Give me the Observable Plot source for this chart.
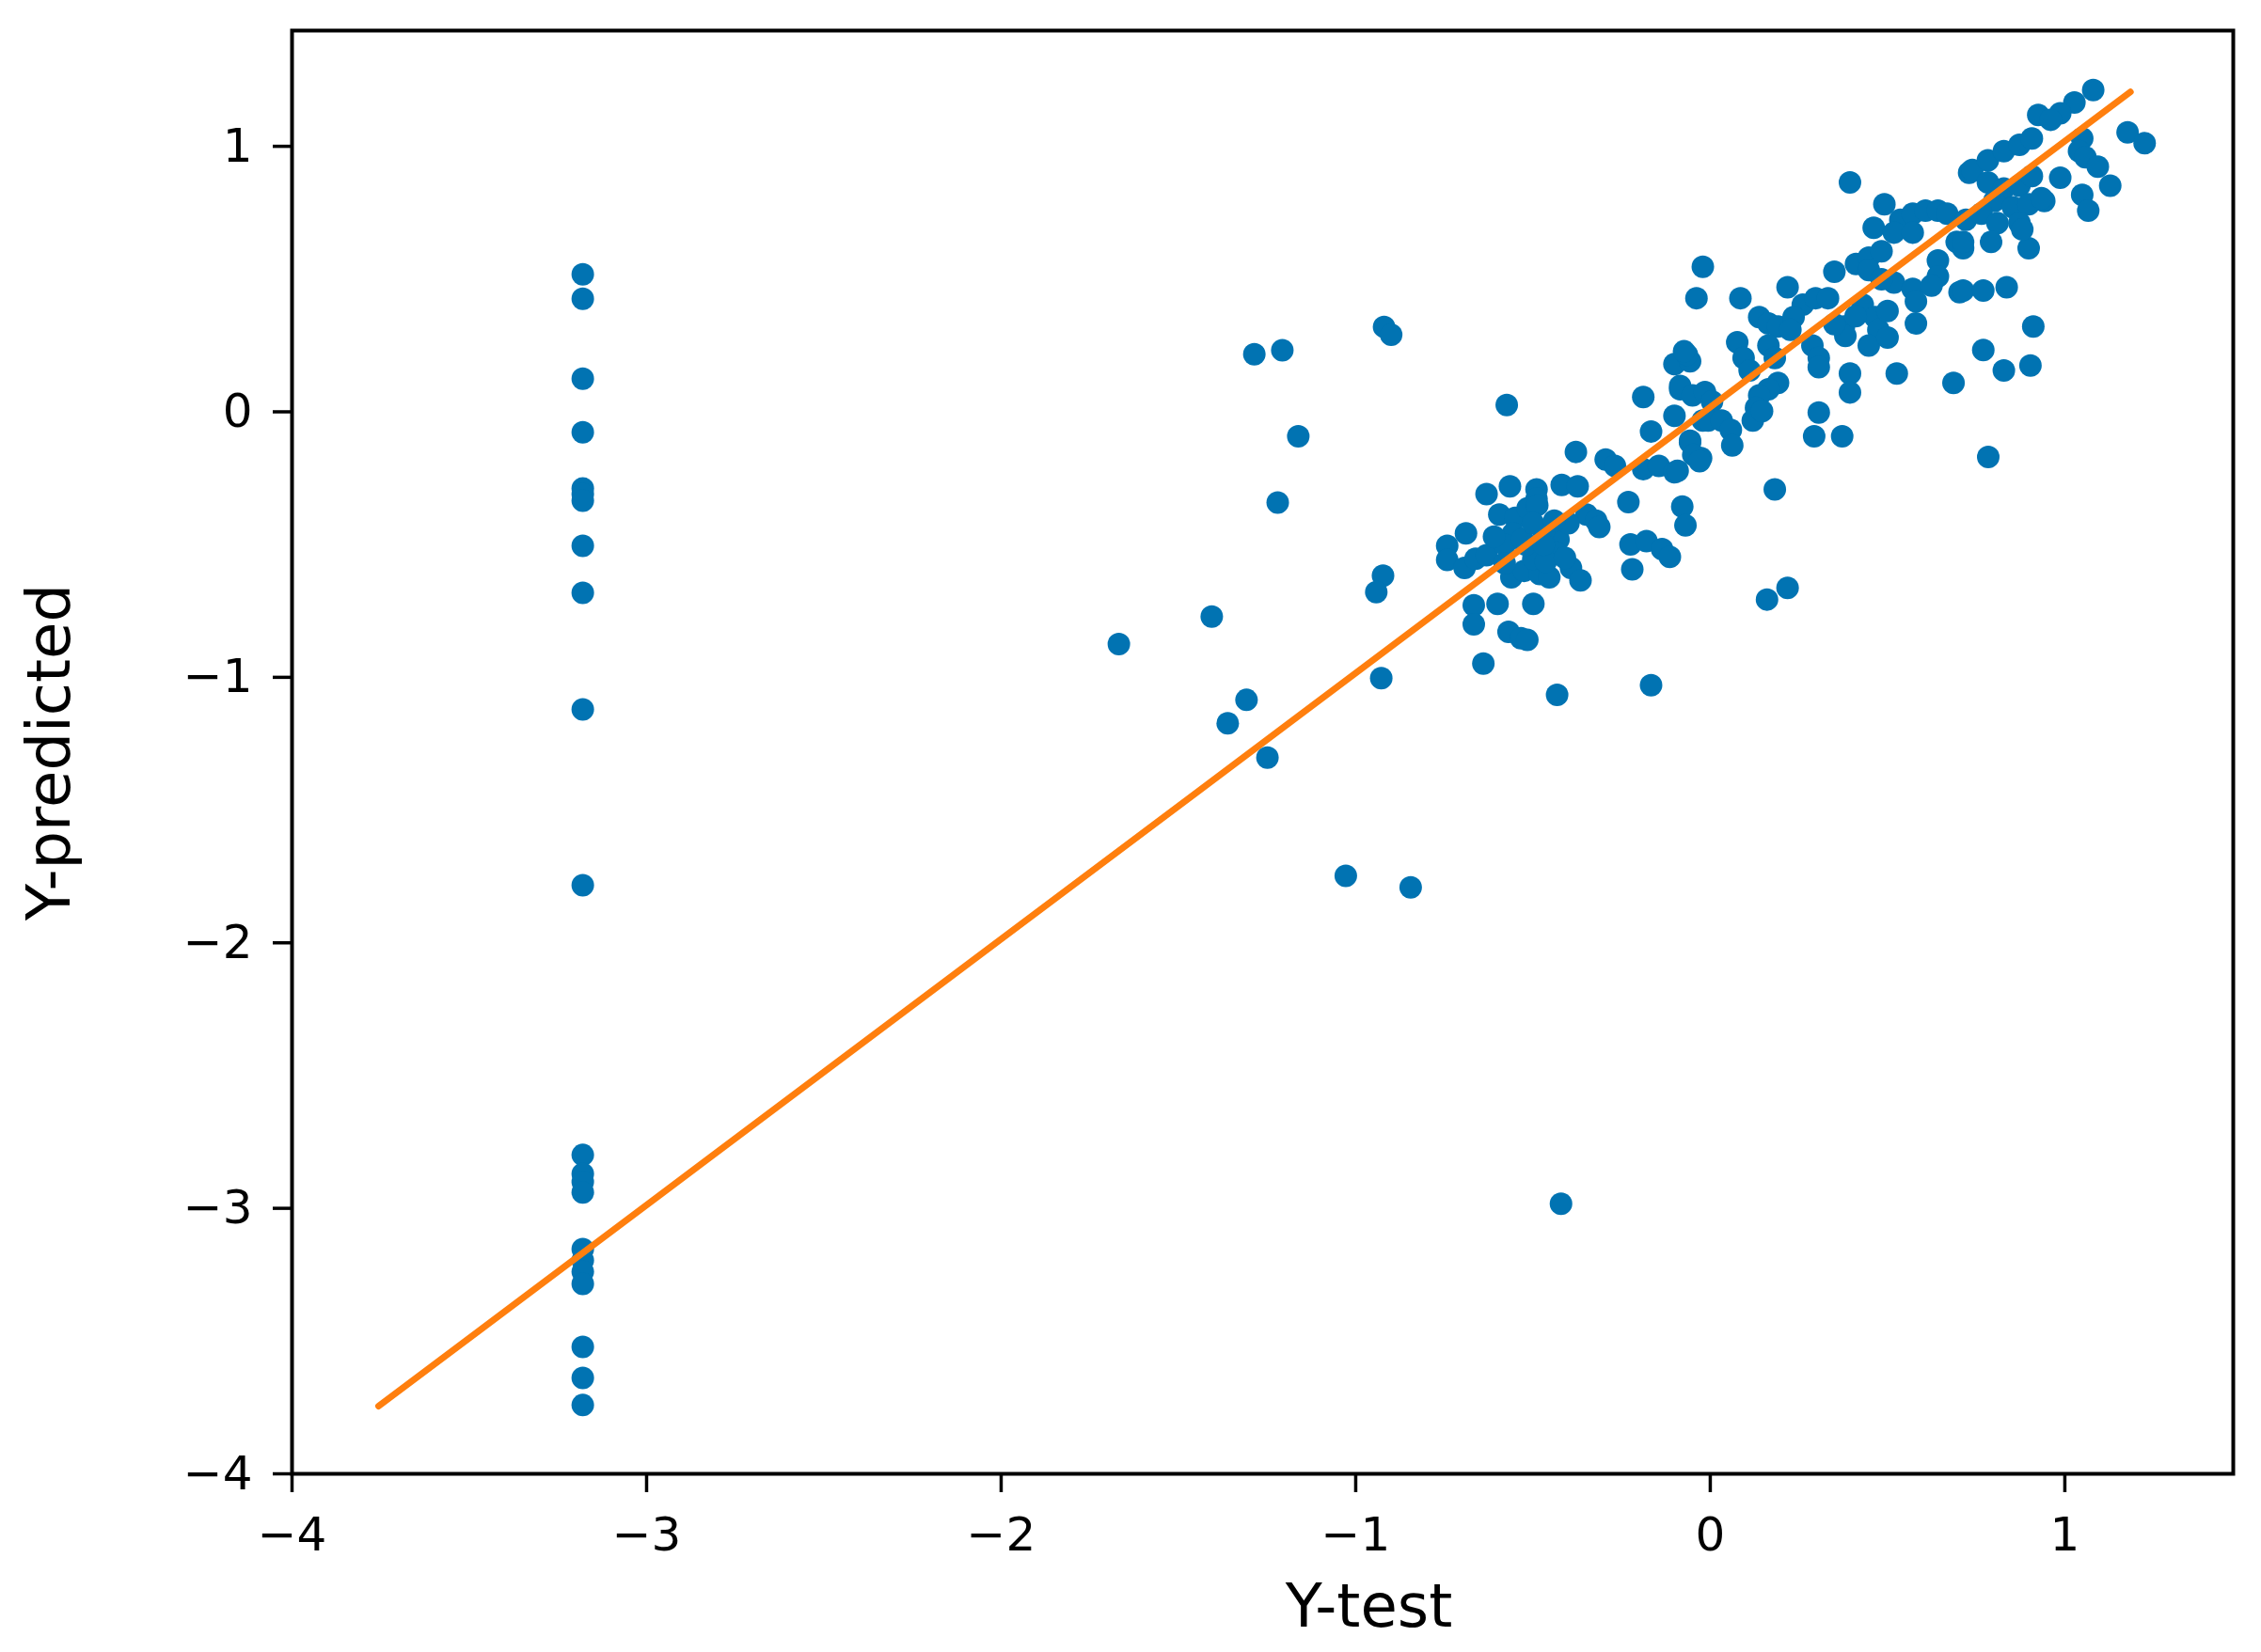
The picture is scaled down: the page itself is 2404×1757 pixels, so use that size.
<!DOCTYPE html>
<html>
<head>
<meta charset="utf-8">
<script src="https://cdn.jsdelivr.net/npm/d3@7"></script>
<script src="https://cdn.jsdelivr.net/npm/@observablehq/plot@0.6"></script>
<style>
  html, body { margin: 0; padding: 0; background: #fff; }
  #chart { width: 2404px; height: 1757px; }
</style>
</head>
<body>
<div id="chart"></div>
<script>
// ---- data ----
const xTicks = [-4, -3, -2, -1, 0, 1];
const yTicks = [-4, -3, -2, -1, 0, 1];
const xLabel = "Y-test";
const yLabel = "Y-predicted";

// vertical column of test value -3.18
const columnX = -3.18;
const columnPred = [0.518, 0.426, 0.125, -0.077, -0.289, -0.31, -0.335, -0.505, -0.682, -1.121, -1.783,
  -2.799, -2.87, -2.90, -2.94, -3.154, -3.196, -3.239, -3.285, -3.522, -3.639, -3.741];

// remaining points: test values and predicted values
const yTest = [
  -1.668, -1.406, -1.361, -1.308, -1.249, -1.286, -1.207, -1.162, -1.220, -0.92, -0.90, -0.923, -0.942, -0.928, -1.028, -0.845, -0.421, -0.432, -0.167,
  -0.574, -0.189, -0.379, -0.295, -0.269, -0.167, -0.101, -0.085, -0.101, -0.057, -0.021, -0.057, -0.026, -0.189, -0.145, -0.101, -0.231, -0.079, -0.070,
  -0.225, -0.180, -0.136, -0.114, -0.220, -0.640, -0.667, -0.667, -0.600, -0.499, -0.569, -0.534, -0.516, -0.631, -0.565, -0.490, -0.490, -0.419, -0.374,
  -0.689, -0.742, -0.742, -0.693, -0.662, -0.631, -0.595, -0.550, -0.515, -0.488, -0.556, -0.454, -0.428, -0.437, -0.349, -0.322, -0.313, -0.561, -0.525,
  -0.481, -0.454, -0.393, -0.366, -0.499, -0.464, -0.52, -0.47, -0.40, -0.58, -0.61, -0.53, -0.47, -0.41, -0.50, -0.58, -0.44,
  0.394, 0.491, 0.461, 0.730, 0.536, 0.571, 0.607, 0.642, 0.668, 0.518, 0.571, 0.695, 0.713, 0.411, 0.447, 0.483, 0.350, 0.642, 0.642, 0.518, 0.571,
  0.624, 0.580, 0.703, 0.580, 0.430, 0.465, 0.474, 0.447, 0.377, 0.381, 0.526, 0.686, 0.394, 0.394, 0.306, 0.293, 0.372, 0.182, -0.021, -0.039, 0.085,
  0.218, 0.138, 0.164, 0.191, 0.261, 0.297, 0.332, 0.235, 0.226, 0.288, 0.306, 0.306, 0.076, 0.094, 0.111, 0.164, 0.182, 0.191, 0.164, 0.138, 0.129,
  0.120, 0.146, -0.066, -0.085, -0.050, -0.015, 0.005, -0.006, 0.032, 0.058, 0.062, -0.057, -0.048, -0.030, -0.092, 0.447, 0.483, -0.074, 0.160, 0.218,
  0.50, 0.41, 0.50, 0.35,
  1.080, 1.027, 0.987, 0.925, 0.960, 1.177, 1.225, 1.049, 1.040, 1.058, 1.093, 1.128, 1.049, 1.066, 0.987, 0.942, 0.898, 0.713, 0.770, 0.836, 0.911,
  0.770, 0.828, 0.903, 0.739, 0.783, 0.828, 0.872, 0.907, 0.783, 0.828, 0.872, 0.907, 0.801, 0.854, 0.898, 0.934, 0.721, 0.765, 0.810, 0.872, 0.713,
  0.792, 0.880, 0.784
];
const yPred = [
  -0.875, -0.771, -1.173, -1.085, -1.302, 0.217, 0.232, -0.092, -0.342, 0.32, 0.29, -0.617, -0.679, -1.003, -1.748, -1.791, -2.983, -1.066, -1.030,
  0.026, 0.056, -0.151, -0.180, -0.204, -0.074, -0.015, 0.085, 0.180, 0.19, -0.033, -0.109, -0.174, -0.216, -0.204, -0.228, -0.340, -0.357, -0.428,
  -0.499, -0.487, -0.517, -0.546, -0.593, -0.948, -0.729, -0.800, -0.723, -0.723, -0.829, -0.853, -0.859, -0.310, -0.281, -0.292, -0.328, -0.275, -0.281,
  -0.458, -0.505, -0.558, -0.588, -0.553, -0.540, -0.387, -0.399, -0.363, -0.352, -0.458, -0.470, -0.481, -0.529, -0.387, -0.410, -0.434, -0.623, -0.599,
  -0.611, -0.623, -0.588, -0.635, -0.553, -0.564, -0.50, -0.45, -0.42, -0.50, -0.47, -0.48, -0.50, -0.55, -0.42, -0.57, -0.41,
  0.864, 0.782, 0.693, 0.900, 0.723, 0.746, 0.758, 0.758, 0.746, 0.675, 0.675, 0.640, 0.616, 0.557, 0.581, 0.605, 0.528, 0.570, 0.510, 0.487, 0.463,
  0.475, 0.416, 0.451, 0.333, 0.404, 0.357, 0.309, 0.250, 0.321, 0.286, 0.144, 0.109, 0.144, 0.073, -0.003, -0.092, -0.092, -0.292, 0.546, 0.428, 0.428,
  0.469, 0.357, 0.333, 0.321, 0.404, 0.428, 0.428, 0.357, 0.309, 0.250, 0.203, 0.168, 0.262, 0.203, 0.156, 0.250, 0.203, 0.109, 0.085, 0.062, 0.015,
  -0.033, 0.003, 0.215, 0.097, 0.062, 0.074, 0.039, -0.033, -0.033, -0.068, -0.127, -0.115, -0.162, -0.186, -0.222, 0.534, 0.499, 0.228, -0.707, -0.663,
  0.38, 0.36, 0.28, 0.33,
  1.212, 1.165, 1.124, 1.118, 1.100, 1.053, 1.012, 1.030, 0.982, 0.959, 0.923, 0.852, 0.817, 0.758, 0.882, 0.794, 0.616, 0.457, 0.457, 0.469, 0.321,
  0.233, 0.156, 0.174, 0.911, 0.947, 0.982, 1.006, 1.030, 0.864, 0.841, 0.852, 0.888, 0.794, 0.770, 0.782, 0.805, 0.723, 0.746, 0.711, 0.711, 0.640,
  0.640, 0.687, -0.170
];

// reference line (predicted range)
const lineX = [-3.756, 1.185];
const lineY = [-3.745, 1.205];

// ---- build tables ----
const points = [
  ...columnPred.map(p => ({test: columnX, pred: p})),
  ...yTest.map((t, i) => ({test: t, pred: yPred[i]}))
];
const lineData = lineX.map((x, i) => ({x, y: lineY[i]}));

const fmt = d => String(d).replace("-", "\u2212");

const chart = Plot.plot({
  width: 2404,
  height: 1757,
  marginLeft: 310,
  marginRight: 30,
  marginTop: 32,
  marginBottom: 190,
  style: {fontFamily: "DejaVu Sans", fontSize: "50px", color: "#000", background: "#fff"},
  x: {domain: [-4, 1.475], label: null},
  y: {domain: [-4, 1.436], label: null},
  marks: [
    Plot.dot(points, {x: "test", y: "pred", r: 12, fill: "#0173B2", stroke: null}),
    Plot.line(lineData, {x: "x", y: "y", stroke: "#FF7F0E", strokeWidth: 7}),
    Plot.frame({stroke: "#000", strokeWidth: 4}),
    Plot.axisX({ticks: xTicks, tickFormat: fmt, tickSize: 20, tickPadding: 26, strokeWidth: 3.5, label: null, fontSize: 50}),
    Plot.axisY({ticks: yTicks, tickFormat: fmt, tickSize: 20, tickPadding: 22, strokeWidth: 3.5, label: null, fontSize: 50}),
    Plot.text([xLabel], {frameAnchor: "bottom", textAnchor: "middle", lineAnchor: "middle", dx: 113, dy: 142, fontSize: 64, fill: "#000"}),
    Plot.text([yLabel], {frameAnchor: "left", textAnchor: "middle", lineAnchor: "middle", dx: -257, rotate: -90, fontSize: 64, fill: "#000"})
  ]
});
document.getElementById("chart").appendChild(chart);
</script>
</body>
</html>
